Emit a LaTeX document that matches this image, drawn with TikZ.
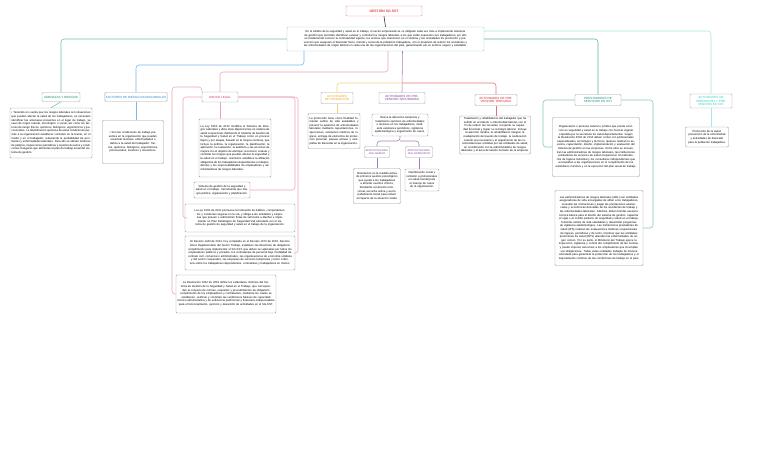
\documentclass[tikz,border=0pt]{standalone}
\usepackage{fontspec}
\setmainfont{Liberation Sans}
\usetikzlibrary{calc}
\definecolor{cTitle}{HTML}{E0404A}
\definecolor{cTitleB}{HTML}{EE8A90}
\definecolor{cMain}{HTML}{8FD3CB}
\definecolor{cGreen}{HTML}{178A6E}
\definecolor{cGreenL}{HTML}{6CC0AE}
\definecolor{cBlue}{HTML}{2E86C8}
\definecolor{cBlueL}{HTML}{7DB8E0}
\definecolor{cPink}{HTML}{D8396A}
\definecolor{cPinkL}{HTML}{F0A3B8}
\definecolor{cOrange}{HTML}{F2A516}
\definecolor{cOrangeL}{HTML}{F7CF7A}
\definecolor{cPurple}{HTML}{7A3A9A}
\definecolor{cPurpleL}{HTML}{A57DBD}
\definecolor{cRed}{HTML}{D8202A}
\definecolor{cRedL}{HTML}{E7737A}
\definecolor{cTeal}{HTML}{168F80}
\definecolor{cTealL}{HTML}{7FC7BC}
\definecolor{cCyan}{HTML}{2FCFC6}
\definecolor{cCyanL}{HTML}{A6E8E4}
\newcommand{\ftx}{\fontsize{2.8}{3.6}\selectfont}
\newcommand{\flb}{\fontsize{3}{3.7}\selectfont}
\begin{document}
\begin{tikzpicture}[x=1pt,y=-1pt,
  tbox/.style={draw=black!40, fill=white, rounded corners=1pt, line width=0.45pt, inner sep=1.5pt, font=\ftx, align=justify},
  cbox/.style={tbox, align=center},
  lbl/.style={draw=black!35, fill=white, rounded corners=1pt, line width=0.45pt, inner sep=1pt, font=\flb, align=center},
  conn/.style={line width=0.55pt, rounded corners=3pt}]
\useasboundingbox[fill=white] (0,0) rectangle (768,465);

% title and main
\node[lbl, draw=cTitleB, text=cTitle, minimum width=76, minimum height=10, font=\fontsize{3.4}{4}\selectfont\bfseries] (title) at (384,11) {GESTIÓN SG-SST};
\node[cbox, draw=cMain, minimum width=197, minimum height=24, text width=190] (main) at (385.5,39) {En el ámbito de la seguridad y salud en el trabajo, el sector empresarial se ve obligado cada vez más a implementar sistemas de gestión que permitan identificar, evaluar y controlar los riesgos laborales a los que están expuestos sus trabajadores; por ello es fundamental conocer la normatividad vigente, los actores que intervienen en el sistema y las actividades de promoción y prevención que aseguran el bienestar físico, mental y social de la población trabajadora, con el propósito de reducir los accidentes y las enfermedades de origen laboral en cada una de las organizaciones del país, garantizando así un entorno seguro y saludable.};
\draw[line width=0.6pt, black!80] (title.south) -- (main.north);

% labels
\node[lbl, text=cGreen, minimum width=38, minimum height=9] (l1) at (61,97) {AMENAZAS Y RIESGOS};
\node[lbl, text=cBlue, minimum width=58, minimum height=9] (l2) at (136,97) {FACTORES DE RIESGO OCUPACIONALES};
\node[lbl, text=cPink, minimum width=36, minimum height=10] (l3) at (220,97) {MARCO LEGAL};
\node[lbl, text=cOrange, minimum width=32, minimum height=11, text width=30] (l4) at (337,98) {ACTIVIDADES DE PROMOCIÓN};
\node[lbl, text=cPurple, minimum width=46, minimum height=11, text width=44] (l5) at (402,98) {ACTIVIDADES DE PREVENCIÓN SECUNDARIA};
\node[lbl, text=cRed, minimum width=42, minimum height=11, text width=40] (l6) at (496,100) {ACTIVIDADES DE PREVENCIÓN TERCIARIA};
\node[lbl, text=cTeal, minimum width=46, minimum height=11, text width=44] (l7) at (598,100) {PRESTADORES DE SERVICIOS EN SST};
\node[lbl, text=cCyan, minimum width=42, minimum height=14, text width=40] (l8) at (711,101) {ACTIVIDADES DE PROMOCIÓN Y PREVENCIÓN EN SST};

% connectors from main
\coordinate (y65) at (0,65);
\coordinate (y72) at (0,72);
\coordinate (y83) at (0,83);
\draw[conn, cGreenL] (main.west) -| (l1.north);
\draw[conn, cCyanL] ([yshift=8pt]main.east) -| (l8.north);
\draw[conn, cTeal!70] (main.east) -| (l7.north);
\coordinate (mB) at ([xshift=-81.5pt]main.south);
\draw[conn, cBlueL] (mB) -- (mB |- y65) -| (l2.north);
\coordinate (mP) at ([xshift=2.5pt]main.south);
\draw[conn, cPinkL] (mP) -- (mP |- y72) -| (l3.north);
\coordinate (mQ) at ([xshift=17pt]main.south);
\draw[conn, cPurpleL] (mQ) -- (l5.north);
\draw[conn, cOrangeL] (mQ |- y83) -| (l4.north);
\draw[conn, cRedL] (mQ |- y83) -| (l6.north);

% column 1
\node[tbox, minimum width=82, minimum height=50, text width=79] (b1) at (51,133) {• Teniendo en cuenta que los riesgos laborales son situaciones que pueden afectar la salud de los trabajadores, es necesario identificar las amenazas presentes en el lugar de trabajo, ya sean de origen natural, tecnológico o social, así como los factores de riesgo físicos, químicos, biológicos, ergonómicos y psicosociales. La identificación oportuna de estas condiciones permite a la organización establecer controles en la fuente, en el medio y en el trabajador, reduciendo la probabilidad de accidentes y enfermedades laborales. Para ello se utilizan matrices de peligros, inspecciones periódicas y reportes de actos y condiciones inseguras que alimentan el plan de trabajo anual del sistema de gestión.};
\draw[conn, cGreenL] (l1.south) -- (b1.north);

% column 2
\node[cbox, minimum width=61, minimum height=43, text width=58] (b2) at (133,142) {• Son las condiciones de trabajo presentes en la organización que pueden ocasionar lesiones, enfermedades o daños a la salud del trabajador: físicos, químicos, biológicos, ergonómicos, psicosociales, locativos y mecánicos.};
\draw[conn, cBlueL] (l2.south) -- (l2.south |- b2.north);

% marco legal
\node[tbox, minimum width=72, minimum height=58, text width=69] (mA) at (235,148) {La Ley 1562 de 2012 modifica el Sistema de Riesgos Laborales y dicta otras disposiciones en materia de salud ocupacional, definiendo el Sistema de Gestión de la Seguridad y Salud en el Trabajo como un proceso lógico y por etapas, basado en la mejora continua, que incluye la política, la organización, la planificación, la aplicación, la evaluación, la auditoría y las acciones de mejora con el objetivo de anticipar, reconocer, evaluar y controlar los riesgos que puedan afectar la seguridad y la salud en el trabajo. Asimismo establece la afiliación obligatoria de los trabajadores dependientes e independientes y las responsabilidades de empleadores y administradoras de riesgos laborales.};
\node[cbox, minimum width=56, minimum height=16, text width=53] (mB1) at (222,190) {Sistema de gestión de la seguridad y salud en el trabajo: herramienta que integra política, organización y planificación.};
\node[cbox, minimum width=110, minimum height=28, text width=107] (mC) at (240,218) {La Ley 1503 de 2011 promueve la formación de hábitos, comportamientos y conductas seguras en la vía, y obliga a las entidades y empresas que posean o administren flotas de vehículos a diseñar e implementar un Plan Estratégico de Seguridad Vial articulado con el sistema de gestión de seguridad y salud en el trabajo de la organización.};
\node[cbox, minimum width=110, minimum height=34, text width=107] (mD) at (240,253) {El Decreto 1443 de 2014, hoy compilado en el Decreto 1072 de 2015, Decreto Único Reglamentario del Sector Trabajo, establece las directrices de obligatorio cumplimiento para implementar el SG-SST, que deben ser aplicadas por todos los empleadores públicos y privados, los contratantes de personal bajo modalidad de contrato civil, comercial o administrativo, las organizaciones de economía solidaria y del sector cooperativo, las empresas de servicios temporales y tener cobertura sobre los trabajadores dependientes, contratistas y trabajadores en misión.};
\node[cbox, minimum width=100, minimum height=38, text width=97] (mE) at (226,294) {La Resolución 0312 de 2019 define los estándares mínimos del Sistema de Gestión de la Seguridad y Salud en el Trabajo, que corresponden al conjunto de normas, requisitos y procedimientos de obligatorio cumplimiento de los empleadores y contratantes, mediante los cuales se establecen, verifican y controlan las condiciones básicas de capacidad técnico-administrativa y de suficiencia patrimonial y financiera indispensables para el funcionamiento, ejercicio y desarrollo de actividades en el SG-SST.};
\coordinate (xL1) at (183,0);
\coordinate (xL2) at (172,0);
\coordinate (xR1) at (295,0);
\coordinate (xR2) at (298,0);
\coordinate (y87) at (0,87);
\draw[conn, cPinkL] (l3.south) -- (l3.south |- mA.north);
\draw[conn, cPinkL] (l3.west) -| (xL1 |- mC.west) -- (mC.west);
\draw[conn, cPinkL] (l3.north west) -- (l3.north west |- y87) -| (xL2 |- mE.west) -- (mE.west);
\draw[conn, cPinkL] (l3.east) -| (xR1 |- mB1.east) -- (mB1.east);
\draw[conn, cPinkL] (l3.east) -| (xR2 |- mD.east) -- (mD.east);

% orange
\node[tbox, minimum width=52, minimum height=35, text width=49] (b4) at (334,131) {La promoción tiene como finalidad fomentar estilos de vida saludables y prevenir la aparición de enfermedades laborales mediante capacitaciones, inspecciones, exámenes médicos de ingreso, entrega de elementos de protección personal, pausas activas y campañas de bienestar en la organización.};
\draw[conn, cOrangeL] (l4.south) -- (l4.south |- b4.north);

% purple
\node[cbox, minimum width=56, minimum height=22, text width=53] (b5) at (400,125) {Busca la detección temprana y tratamiento oportuno de enfermedades o lesiones en los trabajadores, mediante exámenes periódicos, vigilancia epidemiológica y seguimiento de casos.};
\node[lbl, text=cPurple, minimum width=24, minimum height=11, text width=23, font=\fontsize{2.6}{3.2}\selectfont] (s1) at (377,152) {APOYO PSICOSOCIAL BÁSICO};
\node[lbl, text=cPurple, minimum width=26, minimum height=11, text width=25, font=\fontsize{2.6}{3.2}\selectfont] (s2) at (419,152) {APOYO PSICOSOCIAL ESPECÍFICO};
\node[cbox, minimum width=47, minimum height=35, text width=44] (b5a) at (377,186) {Orientación en la medida activa de primeros auxilios psicológicos que ayuda a los trabajadores a afrontar eventos críticos, brindando contención emocional, escucha activa y acompañamiento inicial para reducir el impacto de la situación vivida.};
\node[cbox, minimum width=34, minimum height=22, text width=31] (b5b) at (422,180) {Identificación inicial y remisión a profesionales en salud mental para el manejo de casos de la organización.};
\coordinate (y141) at (0,141);
\draw[conn, cPurpleL] (b5.south) -- (b5.south |- y141) -| (s1.north);
\draw[conn, cPurpleL] (b5.south |- y141) -| (s2.north);
\draw[conn, cPurpleL] (s1.south) -- (s1.south |- b5a.north);
\draw[conn, cPurpleL] (s2.south) -- (s2.south |- b5b.north);

% red
\node[cbox, minimum width=71, minimum height=36, text width=68] (b6) at (495,135) {Tratamiento y rehabilitación del trabajador que ha sufrido un accidente o enfermedad laboral, con el fin de reducir las secuelas, recuperar su capacidad funcional y lograr su reintegro laboral. Incluye la atención médica, la rehabilitación integral, la readaptación del puesto de trabajo, la reubicación cuando sea necesaria y el seguimiento de las recomendaciones emitidas por las entidades de salud, en coordinación con la administradora de riesgos laborales y el área de talento humano de la empresa.};
\draw[conn, cRedL] (l6.south) -- (l6.south |- b6.north);

% teal
\node[cbox, minimum width=87, minimum height=59, text width=84] (b7a) at (596,147) {Organización o persona natural o jurídica que presta servicios en seguridad y salud en el trabajo con licencia vigente expedida por la secretaría de salud departamental. Según la Resolución 4502 de 2012 deben contar con profesionales especializados, tecnólogos y técnicos, quienes realizan la asesoría, capacitación, diseño, implementación y evaluación del sistema de gestión en las empresas. Entre ellos se encuentran las administradoras de riesgos laborales, las instituciones prestadoras de servicios de salud ocupacional, los laboratorios de higiene industrial y los consultores independientes que acompañan a las organizaciones en el cumplimiento de los estándares mínimos y en la ejecución del plan anual de trabajo.};
\node[cbox, minimum width=88, minimum height=75, text width=85] (b7b) at (599,228) {Las administradoras de riesgos laborales (ARL) son entidades aseguradoras de vida encargadas de afiliar a los trabajadores, recaudar las cotizaciones y pagar las prestaciones asistenciales y económicas derivadas de los accidentes de trabajo y las enfermedades laborales. Además, deben brindar asesoría técnica básica para el diseño del sistema de gestión, capacitar al vigía o al comité paritario de seguridad y salud en el trabajo, fomentar estilos de vida saludables y desarrollar programas de vigilancia epidemiológica. Las instituciones prestadoras de salud (IPS) realizan las evaluaciones médicas ocupacionales de ingreso, periódicas y de retiro, mientras que las entidades promotoras de salud (EPS) atienden las enfermedades de origen común. Por su parte, el Ministerio del Trabajo ejerce la inspección, vigilancia y control del cumplimiento de las normas, y puede imponer sanciones a los empleadores que incumplan sus obligaciones. Todas estas entidades trabajan de manera articulada para garantizar la protección de los trabajadores y el mejoramiento continuo de las condiciones de trabajo en el país.};
\coordinate (xT1) at (543,0);
\coordinate (xT2) at (653,0);
\draw[conn, cTealL] (l7.west) -| (xT1 |- b7a.west) -- (b7a.west);
\draw[conn, cTealL] (l7.east) -| (xT2 |- b7b.east) -- (b7b.east);

% cyan
\node[cbox, minimum width=43, minimum height=20, text width=40] (b8) at (707,137) {Promoción de la salud, prevención de la enfermedad y actividades de bienestar para la población trabajadora.};
\draw[conn, cCyanL] (l8.south) -- (l8.south |- b8.north);
\end{tikzpicture}
\end{document}
